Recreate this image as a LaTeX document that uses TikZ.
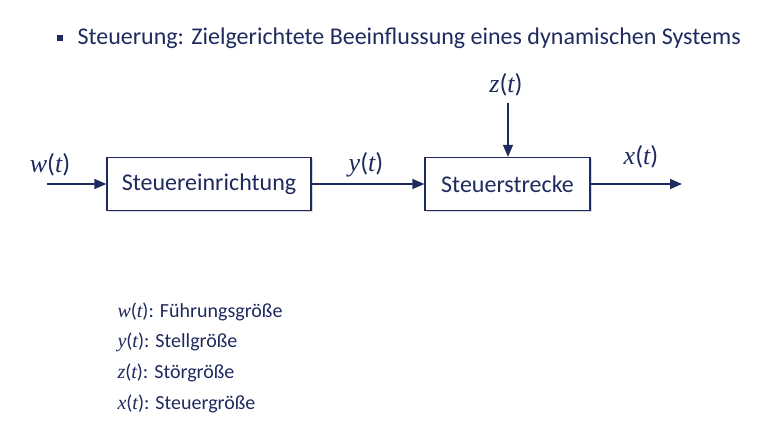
\documentclass[tikz,border=0pt]{standalone}
\usepackage{fontspec}
\setmainfont{Carlito}
\newfontfamily\mth{Liberation Serif}
\usetikzlibrary{arrows.meta,shadows}
\definecolor{navy}{HTML}{1F2A5E}
\newcommand{\mv}[1]{{\mth\itshape #1}({\mth\itshape t})}
\begin{document}
\begin{tikzpicture}[x=1pt,y=-1pt,
  blk/.style={draw=navy,line width=1.3pt,fill=white,minimum height=53pt,inner sep=0pt,font=\fontsize{24}{28}\selectfont,text=navy,
   drop shadow={shadow xshift=1.5pt,shadow yshift=-1.5pt,opacity=0.3}},
  con/.style={draw=navy,line width=1.3pt,-{Triangle[length=12pt,width=10pt]}},
  lab/.style={text=navy,font=\fontsize{26}{28}\selectfont},
  leg/.style={text=navy,anchor=west,font=\fontsize{20}{24}\selectfont}]
\useasboundingbox (0,0) rectangle (774,446);
\node[anchor=west,text=navy,font=\fontsize{24}{28}\selectfont] (t) at (74,38) {Steuerung: Zielgerichtete Beeinflussung eines dynamischen Systems};
\fill[navy] (57,35) rectangle (63,41);
\node[blk,minimum width=204pt] (b1) at (209,184) {Steuereinrichtung};
\node[blk,minimum width=165pt] (b2) at (507.5,184) {Steuerstrecke};
\coordinate (in) at (47,184);
\coordinate (out) at (682,184);
\coordinate (zt) at (508,103);
\draw[con] (in) -- (b1);
\draw[con] (b1) -- (b2);
\draw[con] (b2) -- (out);
\draw[con] (zt) -- (b2.north -| zt);
\node[lab] (lw) at (50,165) {\mv{w}};
\node[lab] (ly) at (366,165) {\mv{y}};
\node[lab] (lz) at (506,85) {\mv{z}};
\node[lab] (lx) at (641,157) {\mv{x}};
\node[leg] (l1) at (114,312) {\mv{w}: Führungsgröße};
\node[leg] (l2) at (114,342) {\mv{y}: Stellgröße};
\node[leg] (l3) at (114,373) {\mv{z}: Störgröße};
\node[leg] (l4) at (114,404) {\mv{x}: Steuergröße};
\end{tikzpicture}
\end{document}
